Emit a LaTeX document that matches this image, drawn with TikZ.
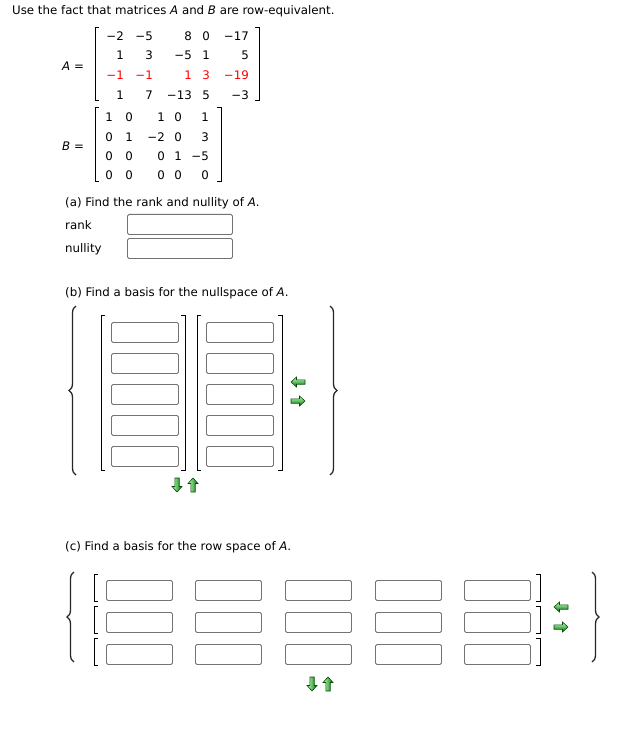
\documentclass[tikz,border=0pt]{standalone}
\usepackage{fontspec}
\setmainfont{DejaVu Sans}
\usetikzlibrary{decorations.pathreplacing}
\tikzset{
  txt/.style={anchor=west,inner sep=0pt,font=\fontsize{11.8}{13}\selectfont},
  num/.style={anchor=east,inner sep=0pt,font=\fontsize{11.8}{13}\selectfont},
  box/.style={draw=black!55,line width=0.9pt,rounded corners=1.5pt},
  brk/.style={line width=1pt},
  brc/.style={decorate,decoration={brace,amplitude=7pt},line width=1.3pt,black!85},
  garrow/.style={draw=green!30!black,line width=0.6pt,top color=green!25!white,bottom color=green!45!black,line join=miter},
}
\newcommand{\rowbox}[4]{\node[box,minimum width=#3pt,minimum height=20pt,anchor=north west,inner sep=0pt] (#4) at (#1,#2) {};}
\newcommand{\arrR}[2]{\draw[garrow,shift={(#1,#2)}] (-7,-2.2) -- (1.5,-2.2) -- (1.5,-5) -- (7,0) -- (1.5,5) -- (1.5,2.2) -- (-7,2.2) -- cycle;}
\newcommand{\arrL}[2]{\draw[garrow,shift={(#1,#2)}] (7,-2.2) -- (-1.5,-2.2) -- (-1.5,-5) -- (-7,0) -- (-1.5,5) -- (-1.5,2.2) -- (7,2.2) -- cycle;}
\newcommand{\arrD}[2]{\draw[garrow,left color=green!25!white,right color=green!45!black,shift={(#1,#2)}] (-2.2,-7) -- (-2.2,1.5) -- (-5,1.5) -- (0,7) -- (5,1.5) -- (2.2,1.5) -- (2.2,-7) -- cycle;}
\newcommand{\arrU}[2]{\draw[garrow,left color=green!25!white,right color=green!45!black,shift={(#1,#2)}] (-2.2,7) -- (-2.2,-1.5) -- (-5,-1.5) -- (0,-7) -- (5,-1.5) -- (2.2,-1.5) -- (2.2,7) -- cycle;}
\begin{document}
\begin{tikzpicture}[x=1pt,y=-1pt]
\useasboundingbox (0,0) rectangle (634,735);
\node[txt] (title) at (12,11) {Use the fact that matrices \textit{A} and \textit{B} are row-equivalent.};
% Matrix A
\node[txt] (Alab) at (62,66) {\textit{A} =};
\draw[brk] (99,28) -- (95,28) -- (95,101) -- (99,101);
\draw[brk] (255,28) -- (259,28) -- (259,101) -- (255,101);
\node[num] (a11) at (124,36) {−2}; \node[num] (a12) at (153,36) {−5}; \node[num] (a13) at (192,36) {8}; \node[num] (a14) at (210,36) {0}; \node[num] (a15) at (249,36) {−17};
\node[num] (a21) at (124,55) {1}; \node[num] (a22) at (153,55) {3}; \node[num] (a23) at (192,55) {−5}; \node[num] (a24) at (210,55) {1}; \node[num] (a25) at (249,55) {5};
\node[num,text=red] (a31) at (124,75) {−1}; \node[num,text=red] (a32) at (153,75) {−1}; \node[num,text=red] (a33) at (192,75) {1}; \node[num,text=red] (a34) at (210,75) {3}; \node[num,text=red] (a35) at (249,75) {−19};
\node[num] (a41) at (124,95) {1}; \node[num] (a42) at (153,95) {7}; \node[num] (a43) at (192,95) {−13}; \node[num] (a44) at (210,95) {5}; \node[num] (a45) at (249,95) {−3};
% Matrix B
\node[txt] (Blab) at (62,146) {\textit{B} =};
\draw[brk] (99,108) -- (95,108) -- (95,182) -- (99,182);
\draw[brk] (217,108) -- (221,108) -- (221,182) -- (217,182);
\node[num] (b11) at (113,117) {1}; \node[num] (b12) at (133,117) {0}; \node[num] (b13) at (165,117) {1}; \node[num] (b14) at (182,117) {0}; \node[num] (b15) at (209,117) {1};
\node[num] (b21) at (113,137) {0}; \node[num] (b22) at (133,137) {1}; \node[num] (b23) at (165,137) {−2}; \node[num] (b24) at (182,137) {0}; \node[num] (b25) at (209,137) {3};
\node[num] (b31) at (113,156) {0}; \node[num] (b32) at (133,156) {0}; \node[num] (b33) at (165,156) {0}; \node[num] (b34) at (182,156) {1}; \node[num] (b35) at (209,156) {−5};
\node[num] (b41) at (113,175) {0}; \node[num] (b42) at (133,175) {0}; \node[num] (b43) at (165,175) {0}; \node[num] (b44) at (182,175) {0}; \node[num] (b45) at (209,175) {0};
% (a)
\node[txt] (pa) at (65,203) {(a) Find the rank and nullity of \textit{A}.};
\node[txt] (rank) at (65,225) {rank};
\node[txt] (nul) at (65,249) {nullity};
\rowbox{127}{214}{105}{rankbox}
\rowbox{127}{238}{105}{nulbox}
% (b)
\node[txt] (pb) at (65,293) {(b) Find a basis for the nullspace of \textit{A}.};
\draw[brc] (76,475) -- (76,306);
\draw[brc] (330,306) -- (330,475);
\draw[brk] (105,315) -- (101,315) -- (101,470) -- (105,470);
\draw[brk] (181,315) -- (185,315) -- (185,470) -- (181,470);
\draw[brk] (201,315) -- (197,315) -- (197,470) -- (201,470);
\draw[brk] (278,315) -- (282,315) -- (282,470) -- (278,470);
\foreach \i/\y in {1/322,2/353,3/384,4/415,5/446}{
  \rowbox{111}{\y}{67}{n1\i}
  \rowbox{206}{\y}{67}{n2\i}
}
\arrL{298}{382}
\arrR{298}{401}
\arrD{177}{485}
\arrU{193}{485}
% (c)
\node[txt] (pc) at (65,547) {(c) Find a basis for the row space of \textit{A}.};
\draw[brc] (74,662) -- (74,572);
\draw[brc] (592,572) -- (592,662);
\foreach \i/\y in {1/580,2/612,3/644}{
  \draw[brk] (98,\y-6) -- (94,\y-6) -- (94,\y+21) -- (98,\y+21);
  \draw[brk] (536,\y-6) -- (540,\y-6) -- (540,\y+21) -- (536,\y+21);
  \rowbox{106}{\y}{66}{r\i a}
  \rowbox{195}{\y}{66}{r\i b}
  \rowbox{285}{\y}{66}{r\i c}
  \rowbox{375}{\y}{66}{r\i d}
  \rowbox{464}{\y}{66}{r\i e}
}
\arrL{561}{607}
\arrR{561}{627}
\arrD{312}{684}
\arrU{328}{684}
\end{tikzpicture}
\end{document}
